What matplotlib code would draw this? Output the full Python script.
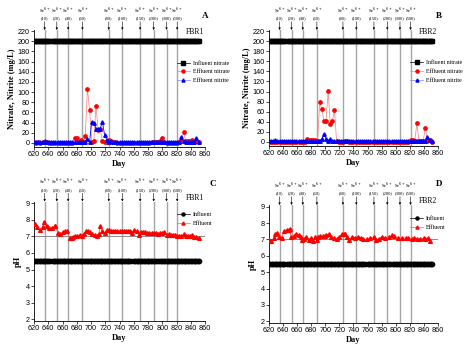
import numpy as np
import matplotlib
matplotlib.use("Agg")
import matplotlib.pyplot as plt
from matplotlib.lines import Line2D

SERIF = "Liberation Serif"
SANS = "Liberation Sans"

# ---- data ----
# Se dosing events (day, concentration label)
event_days = [635, 652, 668, 688, 725, 744, 769, 788, 806, 821]
event_labels = ["(10)", "(20)", "(40)", "(60)", "(80)", "(100)", "(150)", "(200)", "(300)", "(500)"]

# influent sampling (gap around day 644)
infl_days = [d for d in np.arange(620, 853, 2) if d not in (644,)]
infl_nitrate = [200] * len(infl_days)

# effluent sampling every 3 days, 620..851
eff_days = list(np.arange(620, 852, 3))

fbr1_nitrate = [1, 0.5, 1, 0.5, 1, 2, 1, 0.5, 0.5, 0.5,
                0.5, 0.5, 0.5, 0.5, 0.5, 0.5, 0.5, 0.5, 0.5, 9,
                9, 1, 5, 1, 14, 107, 65, 2, 3, 73,
                26, 27, 3, 1, 1, 5, 3, 1, 1, 0.5,
                0.5, 0.5, 0.5, 0.5, 0.5, 0.5, 0.5, 0.5, 0.5, 0.5,
                0.5, 0.5, 0.5, 0.5, 0.5, 1, 2, 1, 1, 4,
                9, 1, 0.5, 0.5, 0.5, 0.5, 0.5, 0.5, 1, 3,
                22, 3, 3, 4, 5, 2, 3, 1]
fbr1_nitrite = [1.5, 1.5, 2, 1.5, 2, 3, 1.5, 1.5, 1, 1,
                1, 1, 1, 1, 1, 1, 1, 1, 1, 1,
                1, 1, 1, 1, 1, 8, 2, 42, 40, 28,
                27, 28, 42, 16, 6, 2, 3, 2, 1.5, 1.5,
                1, 1, 1, 1, 1, 1, 1, 1, 1, 1,
                1, 1, 1, 1, 1, 1.5, 1, 1, 1, 1,
                1, 1, 1, 1, 1, 1, 1, 1.5, 2, 12,
                3, 2, 2, 2, 2, 2, 10, 2]

fbr2_nitrate = [0, 0, 0.5, 0, 0, 0.5, 0, 0, 0.5, 0.5,
                0.5, 0.5, 0.5, 0.5, 0.5, 0.5, 0.5, 0.5, 5, 4,
                4, 4, 3, 1, 79, 65, 42, 42, 101, 36,
                41, 64, 1, 0.5, 0.5, 0.5, 1, 1, 0.5, 0.5,
                0.5, 0.5, 0.5, 0.5, 0.5, 0.5, 0.5, 0.5, 0.5, 0.5,
                0.5, 0.5, 0.5, 0.5, 0.5, 0.5, 0.5, 0.5, 0.5, 0.5,
                0.5, 0.5, 0.5, 0.5, 0.5, 0.5, 0.5, 4, 4, 2,
                37, 2, 2, 2, 28, 2, 3, 0.5]
fbr2_nitrite = [2, 2.5, 2, 3, 2, 2, 1.5, 1.5, 1, 1,
                1, 1, 1, 1, 1, 1, 1, 1, 1, 1,
                1, 1, 1, 1, 1, 6, 16, 6, 2, 6,
                1, 1, 1, 1, 1, 1, 1, 1, 1, 1,
                1, 1, 1, 1, 1, 1, 1, 1, 1, 1,
                1, 1, 1, 1, 1, 1, 1, 1, 1, 1,
                1, 1, 1, 1, 1, 1, 1, 1.5, 2, 2,
                2, 2, 2, 2, 2, 10, 3, 1]

# pH
infl_ph_days = [d for d in np.arange(620, 853, 2) if d not in (644, 758, 794)]
infl_ph = [5.5] * len(infl_ph_days)

fbr1_ph_days = [621, 624, 628, 632, 634, 638, 641, 645, 649, 650, 654, 657, 660, 663, 667,
                670, 673, 675, 678, 681, 684, 687, 690, 693, 696, 699, 702, 705, 708, 711,
                713, 716, 719, 722, 725, 728, 731, 734, 737, 740, 743, 746, 749, 752, 755,
                758, 761, 764, 767, 770, 773, 776, 779, 782, 785, 788, 791, 794, 797, 800,
                803, 806, 809, 812, 815, 818, 821, 824, 827, 830, 833, 836, 839, 842, 845,
                848, 851]
fbr1_ph = [7.73, 7.58, 7.38, 7.58, 7.88, 7.64, 7.5, 7.5, 7.64, 7.6, 7.18, 7.12, 7.25, 7.3, 7.3,
           6.88, 6.92, 6.95, 7.0, 7.02, 7.06, 7.05, 7.15, 7.35, 7.32, 7.25, 7.12, 7.08, 7.05, 7.12,
           7.65, 7.32, 7.18, 7.4, 7.36, 7.34, 7.33, 7.32, 7.32, 7.33, 7.3, 7.34, 7.35, 7.35, 7.32,
           7.2, 7.36, 7.3, 7.1, 7.28, 7.25, 7.25, 7.22, 7.2, 7.22, 7.2, 7.18, 7.12, 7.2, 7.22,
           7.25, 7.1, 7.12, 7.1, 7.1, 7.08, 7.02, 7.05, 7.0, 7.12, 7.05, 7.05, 7.0, 7.06, 6.98,
           6.95, 6.92]

fbr2_ph_days = [620, 623, 627, 629, 632, 634, 638, 641, 645, 648, 650, 651, 655, 658, 662,
                665, 667, 670, 673, 677, 680, 683, 685, 688, 690, 693, 696, 699, 701, 705,
                708, 713, 717, 720, 723, 726, 728, 731, 734, 738, 742, 747, 751, 754, 759,
                764, 769, 772, 776, 780, 785, 790, 795, 798, 803, 809, 814, 818, 823, 826,
                830, 835, 840, 842, 846, 849]
fbr2_ph = [6.94, 6.9, 7.06, 7.3, 7.4, 7.15, 7.1, 7.5, 7.6, 7.56, 7.65, 7.16, 7.2, 7.36, 7.28,
           7.15, 6.96, 7.0, 7.14, 6.96, 7.1, 6.9, 7.16, 6.94, 7.16, 7.2, 7.2, 7.22, 7.24, 7.32,
           7.16, 7.1, 7.0, 7.15, 7.3, 7.3, 7.32, 7.16, 6.98, 7.16, 7.1, 7.16, 7.1, 7.0, 7.0,
           7.08, 7.16, 6.96, 7.04, 7.16, 7.1, 7.16, 7.24, 7.18, 7.1, 7.08, 7.1, 7.06, 7.04, 7.1,
           7.04, 7.0, 7.1, 7.02, 7.06, 6.9]

# ---- figure ----
W, H = 474, 354
fig = plt.figure(figsize=(W / 100, H / 100), dpi=100)


def px_axes(left, right, top, bottom):
    return fig.add_axes([left / W, 1 - bottom / H, (right - left) / W, (bottom - top) / H])


def style_axes(ax, yticks):
    for s in ("top", "right"):
        ax.spines[s].set_visible(False)
    for s in ("left", "bottom"):
        ax.spines[s].set_linewidth(0.6)
    ax.set_xlim(620, 860)
    ax.set_xticks(np.arange(620, 861, 20))
    ax.set_yticks(yticks)
    ax.tick_params(direction="out", length=2, width=0.5, pad=1, labelsize=5.2)
    for lab in ax.get_xticklabels() + ax.get_yticklabels():
        lab.set_fontfamily(SANS)
    ax.set_xlabel("Day", fontfamily=SERIF, fontweight="bold", fontsize=6, labelpad=1)


def add_events(ax):
    for d, lab in zip(event_days, event_labels):
        ax.axvline(d, color="#a5a5a5", lw=1.0, zorder=1)
        ax.annotate("", xy=(d, 1.0), xycoords=("data", "axes fraction"),
                    xytext=(0, 6), textcoords="offset points",
                    arrowprops=dict(arrowstyle="-|>", lw=0.4, color="black",
                                    mutation_scale=3, shrinkA=0, shrinkB=0),
                    annotation_clip=False)
        ax.annotate(lab, xy=(d, 1.0), xycoords=("data", "axes fraction"),
                    xytext=(0, 8.3), textcoords="offset points",
                    ha="center", va="center", fontsize=3.3, fontfamily=SERIF,
                    annotation_clip=False)
        ax.annotate("Se$^{6+}$", xy=(d, 1.0), xycoords=("data", "axes fraction"),
                    xytext=(0, 14.5), textcoords="offset points",
                    ha="center", va="center", fontsize=3.3, fontfamily=SERIF,
                    annotation_clip=False)


def nitrate_panel(ax, nitrate, nitrite, name):
    add_events(ax)
    ax.plot(infl_days, infl_nitrate, color="black", marker="s", ms=3.0, lw=0.6,
            mec="black", zorder=3)
    ax.plot(eff_days, nitrate, color="#f08080", marker="o", ms=2.4, lw=0.5,
            mfc="red", mec="red", zorder=4)
    ax.plot(eff_days, nitrite, color="blue", marker="^", ms=2.5, lw=0.6,
            mfc="blue", mec="blue", zorder=5)
    ax.set_ylim(-8, 222)
    style_axes(ax, np.arange(0, 221, 20))
    ax.set_ylabel("Nitrate, Nitrite (mg/L)", fontfamily=SERIF, fontweight="bold",
                  fontsize=6, labelpad=1)
    handles = [Line2D([], [], color="black", marker="s", ms=2.2, lw=0.5),
               Line2D([], [], color="#f08080", marker="o", ms=2.2, lw=0.5, mfc="red", mec="red"),
               Line2D([], [], color="#8080ff", marker="^", ms=2.2, lw=0.5, mfc="blue", mec="blue")]
    ax.legend(handles, ["Influent nitrate", "Effluent nitrate", "Effluent nitrite"],
              loc="upper left", bbox_to_anchor=(0.82, 0.76), frameon=False,
              prop={"family": SERIF, "size": 4.3}, handlelength=2.2,
              handletextpad=0.5, labelspacing=0.6, borderaxespad=0)
    ax.text(0.94, 0.985, name, transform=ax.transAxes, ha="center", va="center",
            fontsize=5.5, fontfamily=SERIF)


def ph_panel(ax, days, ph, name):
    add_events(ax)
    ax.axhline(7, color="#7a7a7a", lw=0.6, zorder=1)
    ax.plot(infl_ph_days, infl_ph, color="black", marker="o", ms=3.1, lw=0,
            zorder=3)
    ax.plot(days, ph, color="#ff6060", marker="^", ms=2.7, lw=0.6,
            mfc="red", mec="red", zorder=4)
    ax.set_ylim(1.9, 9.1)
    style_axes(ax, np.arange(2, 10, 1))
    ax.set_ylabel("pH", fontfamily=SERIF, fontweight="bold", fontsize=6, labelpad=3)
    handles = [Line2D([], [], color="black", marker="o", ms=2.2, lw=0.5),
               Line2D([], [], color="#ff6060", marker="^", ms=2.2, lw=0.5, mfc="red", mec="red")]
    ax.legend(handles, ["Influent", "Effluent"],
              loc="upper left", bbox_to_anchor=(0.82, 0.93), frameon=False,
              prop={"family": SERIF, "size": 4.3}, handlelength=2.2,
              handletextpad=0.5, labelspacing=0.6, borderaxespad=0)
    ax.text(0.94, 1.03, name, transform=ax.transAxes, ha="center", va="center",
            fontsize=5.5, fontfamily=SERIF)


axA = px_axes(34, 205, 30, 147)
axB = px_axes(269, 438, 30, 146)
axC = px_axes(34, 205, 201.5, 321)
axD = px_axes(269, 438, 205, 323)

nitrate_panel(axA, fbr1_nitrate, fbr1_nitrite, "FBR1")
nitrate_panel(axB, fbr2_nitrate, fbr2_nitrite, "FBR2")
ph_panel(axC, fbr1_ph_days, fbr1_ph, "FBR1")
ph_panel(axD, fbr2_ph_days, fbr2_ph, "FBR2")

for letter, (x, y) in zip("ABCD", [(205, 16), (439, 16), (213, 184), (439, 184)]):
    fig.text(x / W, 1 - y / H, letter, ha="center", va="center", fontsize=6.5,
             fontweight="bold", fontfamily=SERIF)

fig.savefig("out.png", dpi=100)
